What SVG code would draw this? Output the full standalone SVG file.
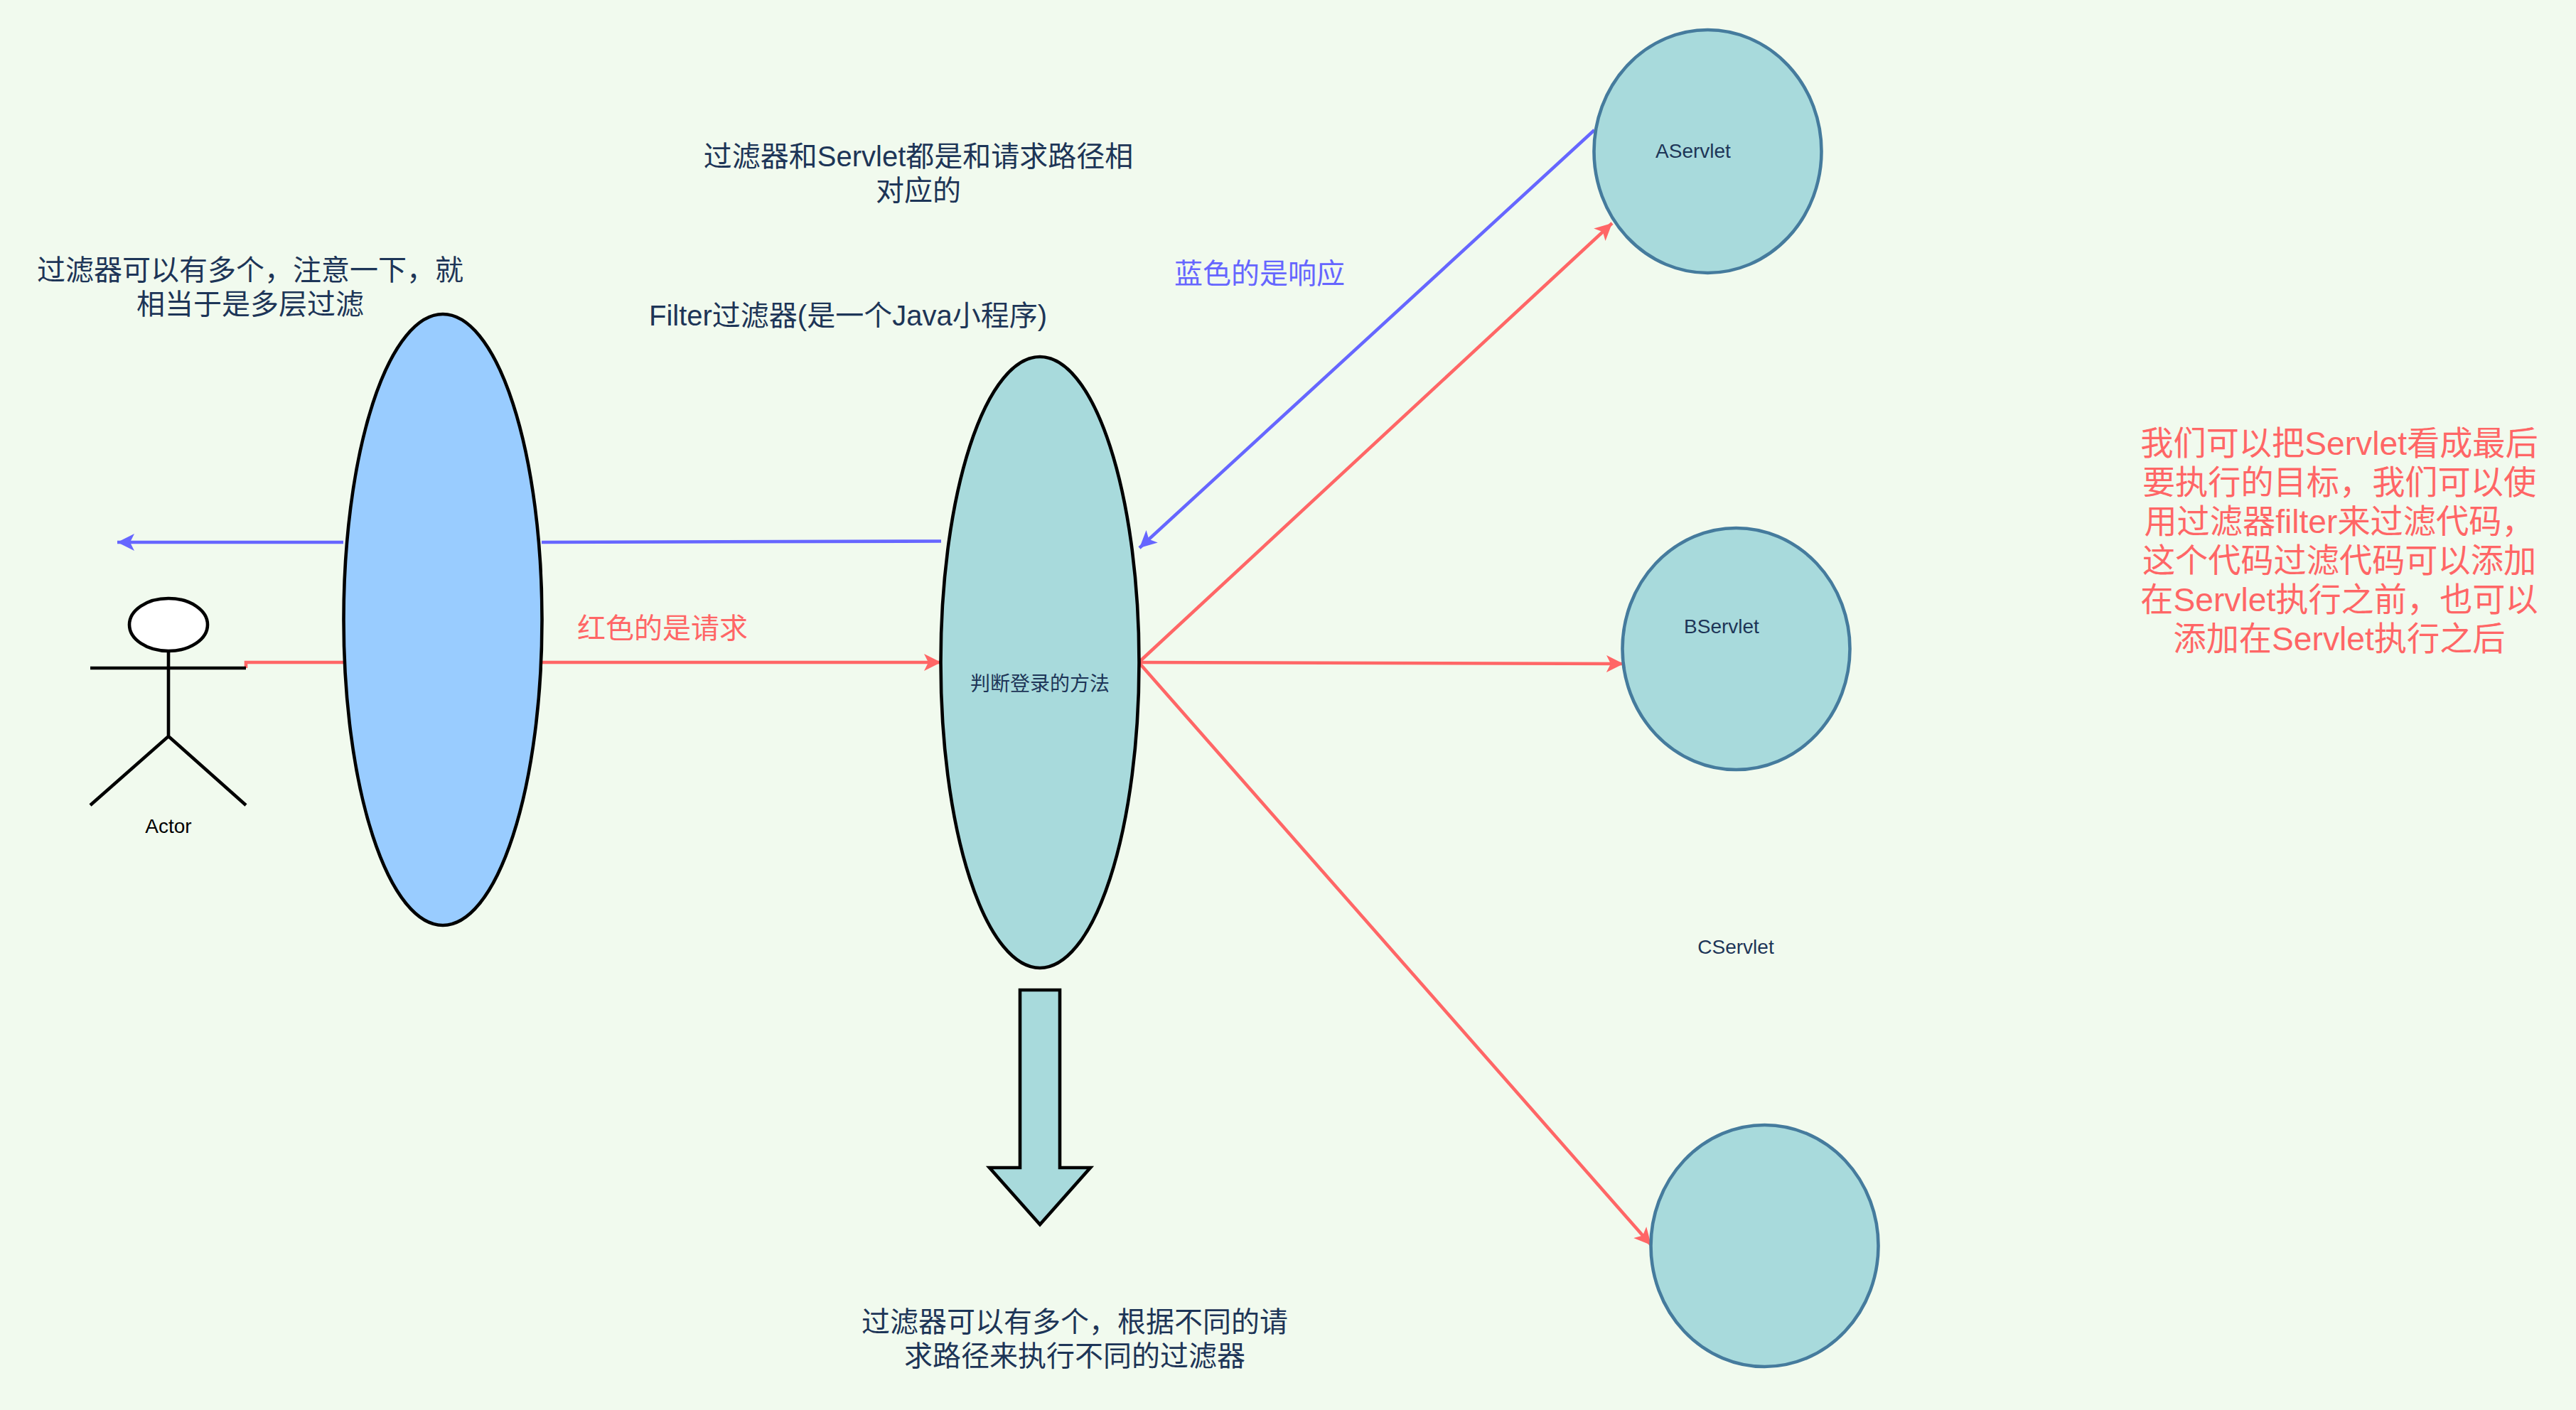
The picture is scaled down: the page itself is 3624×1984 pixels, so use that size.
<svg xmlns="http://www.w3.org/2000/svg" width="3624" height="1984" viewBox="0 0 3624 1984">
<style>
text{font-family:"Liberation Sans","Noto Sans CJK SC",sans-serif;text-anchor:middle;fill:#1D3557}
.big{font-size:40px}.small{font-size:28px}.red{font-size:46.2px;fill:#FF6666}
.actor{fill:#000}
.k{stroke:#000;stroke-width:4.6;fill:none}
.c{fill:#A8DADC;stroke:#457B9D;stroke-width:4.6}
.r{stroke:#FF6666;stroke-width:4.6;fill:none}
.b{stroke:#6666FF;stroke-width:4.6;fill:none}
</style>
<defs>
<marker id="ar" markerUnits="userSpaceOnUse" markerWidth="28" markerHeight="28" refX="24" refY="12" orient="auto"><path d="M0 0L24 12L0 24L6 12Z" fill="#FF6666"/></marker>
<marker id="ab" markerUnits="userSpaceOnUse" markerWidth="28" markerHeight="28" refX="24" refY="12" orient="auto"><path d="M0 0L24 12L0 24L6 12Z" fill="#6666FF"/></marker>
</defs>
<rect width="3624" height="1984" fill="#F1FAEE"/>
<g id="connectors">
<path class="b" d="M1324 761.500L762 763" />
<path class="b" d="M483 763L165 763" marker-end="url(#ab)"/>
<path class="b" d="M2243 183L1603 771" marker-end="url(#ab)"/>
<path class="r" d="M346 940V932H483"/>
<path class="r" d="M763 932H1324" marker-end="url(#ar)"/>
<path class="r" d="M1602 932L2268 314" marker-end="url(#ar)"/>
<path class="r" d="M1602 932L2284 934" marker-end="url(#ar)"/>
<path class="r" d="M1602 932L2323 1752" marker-end="url(#ar)"/>
</g>
<g id="actor">
<ellipse cx="237" cy="879" rx="55" ry="37" class="k" style="fill:#fff"/>
<path class="k" d="M237 916V1036M127 940H346M127 1133L237 1036L346 1133"/>
<text class="small actor" x="237" y="1172">Actor</text>
</g>
<g id="filter-blue"><ellipse cx="623" cy="872" rx="139.500" ry="430" class="k" style="fill:#99CCFF"/></g>
<g id="filter-teal"><ellipse cx="1463" cy="932" rx="139.500" ry="430" class="k" style="fill:#A8DADC"/>
<text class="small" x="1463" y="972">判断登录的方法</text></g>
<g id="servlet-a"><ellipse class="c" cx="2402.500" cy="213" rx="160" ry="171"/><text class="small" x="2382" y="222">AServlet</text></g>
<g id="servlet-b"><ellipse class="c" cx="2442.500" cy="913" rx="160" ry="170"/><text class="small" x="2422" y="891">BServlet</text></g>
<g id="servlet-c"><ellipse class="c" cx="2482.500" cy="1753" rx="160" ry="170"/></g>
<g id="label-c"><text class="small" x="2442" y="1342">CServlet</text></g>
<g id="down-arrow"><path class="k" style="fill:#A8DADC" d="M1435 1393H1491V1643H1534L1463 1723L1392 1643H1435Z"/></g>
<g id="labels">
<text class="big" x="1292" y="234">过滤器和Servlet都是和请求路径相</text>
<text class="big" x="1292" y="282">对应的</text>
<text class="big" x="352" y="394">过滤器可以有多个，注意一下，就</text>
<text class="big" x="352" y="442">相当于是多层过滤</text>
<text class="big" x="1193" y="458">Filter过滤器(是一个Java小程序)</text>
<text class="big" x="1772" y="399" style="fill:#6666FF">蓝色的是响应</text>
<text class="big" x="932" y="898" style="fill:#FF6666">红色的是请求</text>
<text class="big" x="1512" y="1874">过滤器可以有多个，根据不同的请</text>
<text class="big" x="1512" y="1922">求路径来执行不同的过滤器</text>
<text class="red" x="3291" y="640">我们可以把Servlet看成最后</text>
<text class="red" x="3291" y="695">要执行的目标，我们可以使</text>
<text class="red" x="3291" y="750">用过滤器filter来过滤代码，</text>
<text class="red" x="3291" y="805">这个代码过滤代码可以添加</text>
<text class="red" x="3291" y="860">在Servlet执行之前，也可以</text>
<text class="red" x="3291" y="915">添加在Servlet执行之后</text>
</g>
</svg>
